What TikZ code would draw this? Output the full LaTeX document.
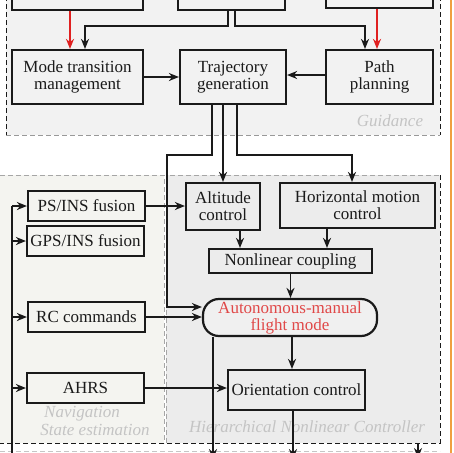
\documentclass[tikz,border=0pt]{standalone}
\usepackage{fontspec}
\setmainfont{Liberation Serif}
\usetikzlibrary{arrows.meta}
\definecolor{guidfill}{HTML}{F2F2F2}
\definecolor{navfill}{HTML}{F4F4F0}
\definecolor{hierfill}{HTML}{ECECEC}
\definecolor{lblgray}{HTML}{C4C4C4}
\definecolor{redarrow}{HTML}{E02020}
\definecolor{redtext}{HTML}{E04848}
\definecolor{orangeline}{HTML}{F0A040}
\definecolor{ink}{HTML}{1A1A1A}
\begin{document}
\begin{tikzpicture}[x=1pt,y=-1pt,
  blk/.style={draw=ink, line width=2.2pt, inner sep=0pt, align=center,
    font=\fontsize{17}{17}\selectfont, text=ink},
  conn/.style={draw=ink, line width=1.8pt, -{Stealth[length=10pt,width=8pt]}},
  redconn/.style={draw=redarrow, line width=2pt, -{Stealth[length=10pt,width=8pt]}},
  wire/.style={draw=ink, line width=1.8pt},
  region/.style={line width=0.9pt, dash pattern=on 5pt off 3pt},
  lbl/.style={text=lblgray, font=\fontsize{17}{17}\selectfont\itshape, inner sep=0pt}]
\clip (0,0) rectangle (453,453);
\fill[white] (0,0) rectangle (453,453);
% regions
\fill[guidfill] (6,-20) rectangle (440,135);
\draw[region, ink] (6,-20) -- (6,135);
\draw[region, gray!80] (6,135) -- (440,135);
\draw[region, ink] (440,-20) -- (440,135);
\fill[navfill] (-5,175) rectangle (164,443);
\draw[region, gray!70] (0,175) -- (164,175) -- (164,443);
\fill[hierfill] (166,175) rectangle (440,443);
\draw[region, gray!70] (166,443) -- (166,175) -- (440,175);
\draw[region, ink] (440,175) -- (440,443) -- (0,443);
\draw[region, gray!45] (0,451) -- (440,451);
\draw[orangeline, line width=2.5pt] (451,-5) -- (451,460);
% region labels
\node[lbl] (glbl) at (390,121) {Guidance};
\node[lbl] (nlbl1) at (82,414) {Navigation};
\node[lbl] (nlbl2) at (95,430) {State estimation};
\node[lbl] (hlbl) at (307,427) {Hierarchical Nonlinear Controller};
% guidance boxes
\node[blk, fill=guidfill, minimum width=131, minimum height=50] (topL) at (77.5,-15) {};
\node[blk, fill=guidfill, minimum width=107, minimum height=50] (topM) at (231.5,-15) {};
\node[blk, fill=guidfill, minimum width=107, minimum height=48] (topR) at (379.5,-16) {};
\node[blk, fill=guidfill, minimum width=131, minimum height=54] (mode) at (77.5,77) {Mode transition\\management};
\node[blk, fill=guidfill, minimum width=106, minimum height=54] (traj) at (233,77) {Trajectory\\generation};
\node[blk, fill=guidfill, minimum width=107, minimum height=54] (path) at (379.5,77) {Path\\planning};
% navigation boxes
\node[blk, fill=navfill, minimum width=117, minimum height=30] (psins) at (86.5,206) {PS/INS fusion};
\node[blk, fill=navfill, minimum width=117, minimum height=30] (gpsins) at (85.5,241) {GPS/INS fusion};
\node[blk, fill=navfill, minimum width=117, minimum height=30] (rc) at (86.5,317) {RC commands};
\node[blk, fill=navfill, minimum width=117, minimum height=30] (ahrs) at (85.5,388) {AHRS};
% controller boxes
\node[blk, fill=hierfill, minimum width=74, minimum height=47] (alt) at (223,206.5) {Altitude\\control};
\node[blk, fill=hierfill, minimum width=155, minimum height=45] (horiz) at (357.5,205.5) {Horizontal motion\\control};
\node[blk, fill=hierfill, minimum width=163, minimum height=24] (nonlin) at (290.5,261) {Nonlinear coupling};
\node[blk, fill=hierfill!80!white, minimum width=174, minimum height=37, rounded corners=16pt, text=redtext] (auto) at (290,317.5) {Autonomous-manual\\flight mode};
\node[blk, fill=hierfill, minimum width=137, minimum height=40] (orient) at (296.5,390) {Orientation control};
% helper coordinates
\coordinate (lft) at (167,155);
\coordinate (bus) at (12,206);
\coordinate (busend) at (12,460);
\coordinate (bt) at (418,443);
% guidance connectors
\draw[redconn] ([xshift=-7.5]topL.south) -- ([xshift=-7.5]mode.north);
\draw[redconn] ([xshift=-2.5]topR.south) -- ([xshift=-2.5]path.north);
\draw[conn] ([xshift=-3.5]topM.south) -- ++(0,15) -| ([xshift=7.5]mode.north);
\draw[conn] ([xshift=3.5]topM.south) -- ++(0,15) -| ([xshift=-14.5]path.north);
\draw[conn] (mode.east) -- (traj.west);
\draw[conn] ([yshift=2]path.west) -- ([yshift=2]traj.east);
% trajectory outputs
\draw[conn] ([xshift=-21]traj.south) |- (lft) |- ([yshift=10.5]auto.west);
\draw[conn] ([xshift=-10]traj.south) -- (alt.north);
\draw[conn] ([xshift=4]traj.south) -- ++(0,50) -| ([xshift=-5.5]horiz.north);
% controller connectors
\draw[conn] ([xshift=17]alt.south) -- ([xshift=17]alt.south |- nonlin.north);
\draw[conn] ([xshift=-30.5]horiz.south) -- ([xshift=-30.5]horiz.south |- nonlin.north);
\draw[conn] (nonlin.south) -- (nonlin.south |- auto.north);
\draw[conn] ([xshift=2]auto.south) -- ([xshift=2]auto.south |- orient.north);
\draw[conn] ([xshift=-77]auto.south) -- ++(0,122);
\draw[conn] ([xshift=-3.5]orient.south) -- ++(0,48);
\draw[conn] (bt) -- ++(0,15);
% navigation bus
\draw[wire] (bus) -- (busend);
\draw[conn] (bus) -- (psins.west);
\draw[conn] (bus |- gpsins.west) -- (gpsins.west);
\draw[conn] (bus |- rc.west) -- (rc.west);
\draw[conn] (bus |- ahrs.west) -- (ahrs.west);
\draw[conn] (psins.east) -- (psins.east -| alt.west);
\draw[conn] (rc.east) -- (rc.east -| auto.west);
\draw[conn] (ahrs.east) -- (ahrs.east -| orient.west);
\end{tikzpicture}
\end{document}
